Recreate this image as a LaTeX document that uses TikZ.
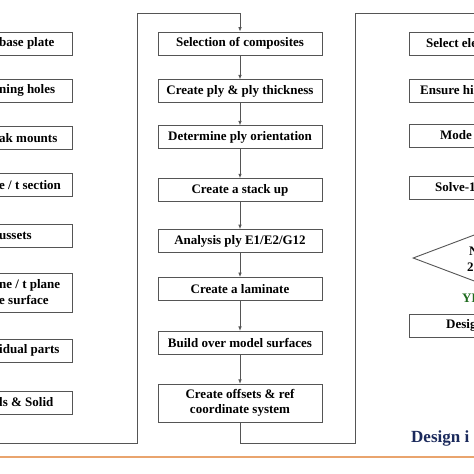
\documentclass[tikz,border=0pt]{standalone}
\usepackage{fontspec}
\setmainfont{Liberation Serif}
\usetikzlibrary{arrows.meta,positioning,shapes.geometric}
\definecolor{lineg}{HTML}{555555}
\definecolor{yesgreen}{HTML}{1E6B1E}
\definecolor{titlenavy}{HTML}{1B2A5C}
\definecolor{rulepeach}{HTML}{E9A46E}

\begin{document}
\begin{tikzpicture}[x=1pt, y=-1pt, font=\fontsize{13}{15}\selectfont\bfseries, >={Latex[length=4.5pt,width=3.6pt]},
  stepbox/.style={draw=lineg, line width=0.9pt, minimum width=164pt, minimum height=23pt, inner sep=0pt, align=center},
  cuttext/.style={anchor=west, inner sep=0pt, align=left},
  flow/.style={draw=lineg, line width=0.8pt}]
  \useasboundingbox[fill=white] (0,0) rectangle (474,474);

  % left column, cut by the page edge
  \node[stepbox] (l1) at (-10,43.5) {};
  \node[stepbox] (l2) at (-10,90.5) {};
  \node[stepbox] (l3) at (-10,138) {};
  \node[stepbox] (l4) at (-10,185) {};
  \node[stepbox] (l5) at (-10,235.5) {};
  \node[stepbox,minimum height=39pt] (l6) at (-10,292.5) {};
  \node[stepbox] (l7) at (-10,350.5) {};
  \node[stepbox] (l8) at (-10,402.5) {};
  \node[cuttext] (t1) at (-1,43.5) {base plate};
  \node[cuttext] (t2) at (-1,90.5) {ning holes};
  \node[cuttext] (t3) at (-1,138) {ak mounts};
  \node[cuttext] (t4) at (-1,185) {e / t section};
  \node[cuttext] (t5) at (-1,235.5) {ussets};
  \node[cuttext,font=\fontsize{13}{16}\selectfont\bfseries] (t6) at (-1,292.5) {ne / t plane\\e surface};
  \node[cuttext] (t7) at (-1,350.5) {idual parts};
  \node[cuttext] (t8) at (-1,402.5) {ls \& Solid};

  % middle column
  \node[stepbox] (sel) at (240,43.5) {Selection of composites};
  \node[stepbox,below=24pt of sel] (ply) {Create ply \& ply thickness};
  \node[stepbox,below=22pt of ply] (ori) {Determine ply orientation};
  \node[stepbox,below=29pt of ori] (stk) {Create a stack up};
  \node[stepbox,below=27pt of stk] (ana) {Analysis ply E1/E2/G12};
  \node[stepbox,below=24pt of ana] (lam) {Create a laminate};
  \node[stepbox,below=30pt of lam] (bld) {Build over model surfaces};
  \node[stepbox,minimum height=38pt,below=29pt of bld] (off) {Create offsets \& ref\\coordinate system};
  \draw[flow,->] (sel) -- (ply);
  \draw[flow,->] (ply) -- (ori);
  \draw[flow,->] (ori) -- (stk);
  \draw[flow,->] (stk) -- (ana);
  \draw[flow,->] (ana) -- (lam);
  \draw[flow,->] (lam) -- (bld);
  \draw[flow,->] (bld) -- (off);

  % right column, cut by the page edge
  \node[stepbox] (r1) at (491,43.5) {};
  \node[stepbox] (r2) at (491,90.5) {};
  \node[stepbox] (r3) at (491,135.5) {};
  \node[stepbox] (r4) at (491,187.5) {};
  \node[draw=lineg, line width=0.9pt, shape=diamond, minimum width=156pt, minimum height=59pt, inner sep=0pt] (r5) at (491,258) {};
  \node[stepbox] (r6) at (491,325.5) {};
  \node[cuttext] (s1) at (426,43.5) {Select ele};
  \node[cuttext] (s2) at (420,90.5) {Ensure hi};
  \node[cuttext] (s3) at (440,135.5) {Mode};
  \node[cuttext] (s4) at (435,187.5) {Solve-1};
  \node[cuttext] (s5) at (469,251.5) {N};
  \node[cuttext] (s6) at (467,267) {2};
  \node[cuttext,text=yesgreen] (s7) at (462,298) {YE};
  \node[cuttext] (s8) at (446,325.5) {Desig};

  % links between the columns
  \coordinate (c1) at (137,443);
  \coordinate (c2) at (137,13);
  \coordinate (c3) at (355,443);
  \coordinate (c4) at (355,13);
  \draw[flow,->] (l8.south) |- (c1) -- (c2) -| (sel.north);
  \draw[flow,->] (off.south) |- (c3) -- (c4) -| (r1.north);

  \node[cuttext,font=\fontsize{17}{20}\selectfont\bfseries,text=titlenavy] (ttl) at (411,438) {Design i};
  \draw[rulepeach,line width=1.5pt] (0,457) -- (474,457);
\end{tikzpicture}
\end{document}
